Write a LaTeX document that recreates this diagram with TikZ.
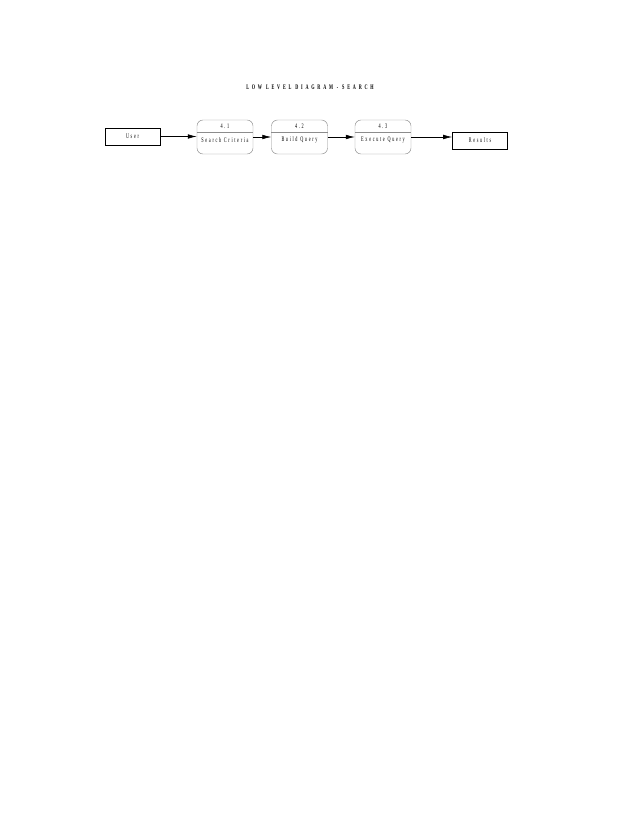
\documentclass[tikz,border=0pt]{standalone}
\usepackage{fontspec}
\usepackage{xcolor}
\usepackage{tikz}
\usetikzlibrary{arrows.meta}
\newfontfamily\dgfont[LetterSpace=24,FakeStretch=0.6]{Liberation Serif}
\newfontfamily\dgtitle[LetterSpace=40,FakeStretch=0.6]{Liberation Serif}
\definecolor{ink}{HTML}{000000}
\definecolor{soft}{HTML}{8C8C8C}
\tikzset{
  ext/.style={draw=ink, line width=0.6pt, minimum width=55pt, minimum height=17pt, inner sep=0pt},
  proc/.style={draw=soft, line width=0.45pt, rounded corners=6pt, minimum width=56pt, minimum height=34pt, inner sep=0pt},
  divl/.style={draw=soft, line width=0.45pt},
  flow/.style={draw=ink, line width=0.6pt, -{Latex[length=9pt,width=4.6pt]}},
  lab/.style={font=\dgfont\fontsize{7}{8}\selectfont, inner sep=0pt},
  ttl/.style={font=\dgtitle\bfseries\fontsize{7}{8}\selectfont, inner sep=0pt}
}
\begin{document}
\begin{tikzpicture}[x=1pt,y=-1pt]
  \useasboundingbox (0,0) rectangle (638,826);

  \node[ttl] (title) at (310,87) {LOW LEVEL DIAGRAM - SEARCH};

  % external entities
  \node[ext] (user) at (132.5,136.5) {};
  \node[lab] at (user) {User};
  \node[ext] (res) at (480,140.5) {};
  \node[lab] at (res) {Results};

  % processes
  \foreach \nm/\cx/\num/\txt in {p41/225/4.1/Search Criteria, p42/299.5/4.2/Build Query, p43/383/4.3/Execute Query}{
    \node[proc] (\nm) at (\cx,137) {};
    \draw[divl] ([yshift=5pt]\nm.west) -- ([yshift=5pt]\nm.east);
    \node[lab] (\nm n) at ([yshift=11pt]\nm.center) {\num};
    \node[lab] (\nm t) at ([yshift=-3pt]\nm.center) {\txt};
  }

  \draw[flow] (user.east) -- (user.east -| p41.west);
  \draw[flow] (p41.east) -- (p42.west);
  \draw[flow] (p42.east) -- (p43.west);
  \draw[flow] (p43.east) -- (p43.east -| res.west);
\end{tikzpicture}
\end{document}
